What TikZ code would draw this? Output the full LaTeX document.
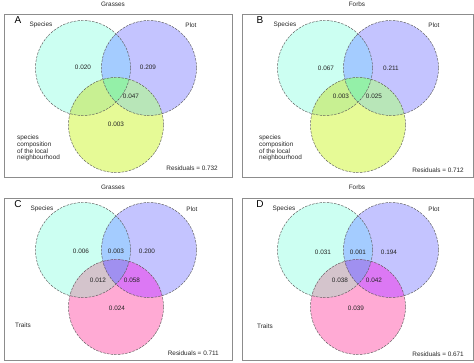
\documentclass[tikz,border=0pt]{standalone}
\usepackage{fontspec}
\setmainfont{Liberation Sans}
\usepackage{xcolor}

\definecolor{colS}{HTML}{CCFFF2}
\definecolor{colP}{HTML}{C4C4FF}
\definecolor{colSP}{HTML}{A4CCFF}
\definecolor{colY}{HTML}{E6FA96}
\definecolor{colSY}{HTML}{C8F092}
\definecolor{colPY}{HTML}{B8E6B8}
\definecolor{colSPY}{HTML}{94F0A8}
\definecolor{colT}{HTML}{FFAAD4}
\definecolor{colST}{HTML}{D4C4CC}
\definecolor{colPT}{HTML}{DC78F4}
\definecolor{colSPT}{HTML}{A090F0}

% three circles of one panel, #1,#2 = centre of the species circle, #3 = Y or T
\newcommand{\vennthree}[3]{%
  \begin{scope}[shift={(#1,#2)}]
    \fill[colS] (0,0) circle (47.5pt);
    \fill[colP] (66,0) circle (47.5pt);
    \fill[col#3] (33,57) circle (47.5pt);
    \begin{scope}
      \clip (0,0) circle (47.5pt);
      \fill[colSP] (66,0) circle (47.5pt);
      \fill[colS#3] (33,57) circle (47.5pt);
    \end{scope}
    \begin{scope}
      \clip (66,0) circle (47.5pt);
      \fill[colP#3] (33,57) circle (47.5pt);
    \end{scope}
    \begin{scope}
      \clip (0,0) circle (47.5pt);
      \clip (66,0) circle (47.5pt);
      \fill[colSP#3] (33,57) circle (47.5pt);
    \end{scope}
    \draw[ring] (0,0) circle (47.5pt);
    \draw[ring] (66,0) circle (47.5pt);
    \draw[ring] (33,57) circle (47.5pt);
  \end{scope}}

\begin{document}
\begin{tikzpicture}[x=1pt,y=-1pt,
  every node/.style={inner sep=0pt,text=black!85,font=\fontsize{6.4}{5.8}\selectfont},
  ring/.style={draw=black!65,line width=0.45pt,dash pattern=on 2.5pt off 1.2pt},
  frame/.style={draw=black!45,line width=0.8pt},
  letter/.style={font=\fontsize{10}{10}\selectfont,text=black},
  resid/.style={anchor=east},
  block/.style={anchor=north west,align=left}]
	\useasboundingbox (0,0) rectangle (474,363);
	
	% titles
	\node (titleA) at (113,4) {Grasses};
	\node (titleB) at (357,4) {Forbs};
	\node (titleC) at (113,187) {Grasses};
	\node (titleD) at (357,187) {Forbs};
	
	% frames
	\draw[frame] (4,14) rectangle (232,177);
	\draw[frame] (242,14) rectangle (473,177);
	\draw[frame] (4,198) rectangle (232,360);
	\draw[frame] (242,198) rectangle (473,360);
	
	% circles
	\vennthree{83}{68}{Y}
	\vennthree{325}{68}{Y}
	\vennthree{83}{250}{T}
	\vennthree{325}{250}{T}
	
	% panel A
	\node[letter] (letA) at (18,20) {A};
	\node (spA) at (41,25) {Species};
	\node (plA) at (191,25) {Plot};
	\node (aS) at (83,67) {0.020};
	\node (aP) at (148,67) {0.209};
	\node (aPY) at (131,96) {0.047};
	\node (aY) at (116,124) {0.003};
	\node[block] (nbA) at (17,135) {species\\composition\\of the local\\neighbourhood};
	\node[resid] (resA) at (218,168) {Residuals = 0.732};
	
	% panel B
	\node[letter] (letB) at (260,20) {B};
	\node (spB) at (285,25) {Species};
	\node (plB) at (434,25) {Plot};
	\node (bS) at (326,68) {0.067};
	\node (bP) at (391,68) {0.211};
	\node (bSY) at (341,96) {0.003};
	\node (bPY) at (374,96) {0.025};
	\node[block] (nbB) at (259,135) {species\\composition\\of the local\\neighbourhood};
	\node[resid] (resB) at (464,170) {Residuals = 0.712};
	
	% panel C
	\node[letter] (letC) at (18,204) {C};
	\node (spC) at (42,209) {Species};
	\node (plC) at (192,209) {Plot};
	\node (cS) at (81,251) {0.006};
	\node (cSP) at (116,251) {0.003};
	\node (cP) at (147,251) {0.200};
	\node (cST) at (98,280) {0.012};
	\node (cPT) at (132,280) {0.058};
	\node (cT) at (117,308) {0.024};
	\node (trC) at (23,325) {Traits};
	\node[resid] (resC) at (219,353) {Residuals = 0.711};
	
	% panel D
	\node[letter] (letD) at (260,204) {D};
	\node (spD) at (284,209) {Species};
	\node (plD) at (434,209) {Plot};
	\node (dS) at (323,252) {0.031};
	\node (dSP) at (358,252) {0.001};
	\node (dP) at (389,252) {0.194};
	\node (dST) at (340,280) {0.038};
	\node (dPT) at (374,280) {0.042};
	\node (dT) at (356,308) {0.039};
	\node (trD) at (265,326) {Traits};
	\node[resid] (resD) at (464,354) {Residuals = 0.671};
	
\end{tikzpicture}
\end{document}
